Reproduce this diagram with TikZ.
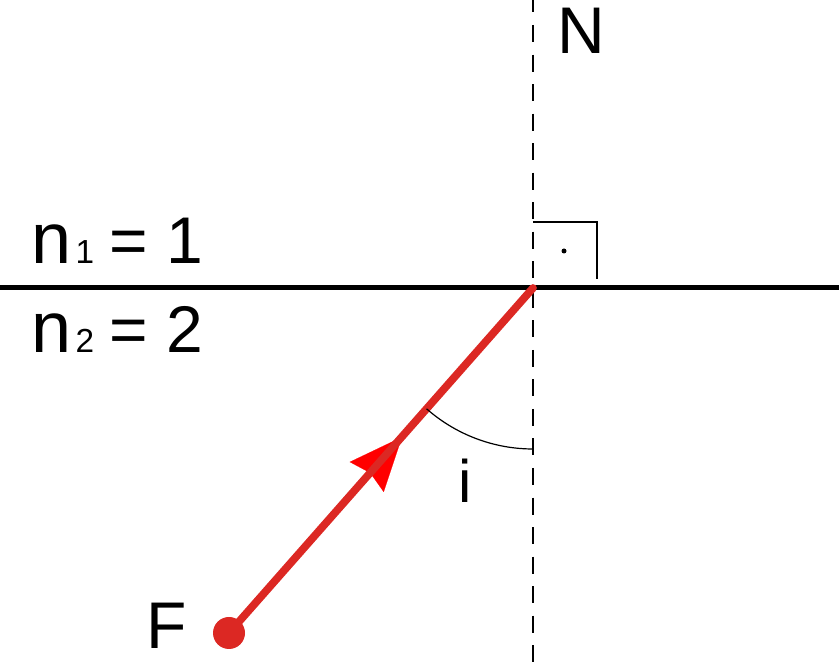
\documentclass[tikz,border=0pt]{standalone}
\usepackage{fontspec}
\setmainfont{Liberation Sans}
\usepackage[dvipsnames]{xcolor}
\usetikzlibrary{positioning,arrows.meta,angles,quotes}
\definecolor{raycolor}{RGB}{220,40,35}
\newcommand{\bigtxt}{\fontsize{49.5}{50}\selectfont}
\newcommand{\subtxt}{\fontsize{25}{25}\selectfont}

\begin{document}
\begin{tikzpicture}[x=0.75pt, y=0.75pt, thick, text node/.style={inner sep=0pt, anchor=base west, font=\bigtxt}]

                \useasboundingbox (0,0) rectangle (839,663);
                \coordinate (O) at (533,375);
                \coordinate (L) at (0,375);
                \coordinate (R) at (839,375);
                \coordinate (top) at (533,663);
                \coordinate (bot) at (533,0);
                \coordinate (B1) at (533,441);
                \coordinate (B2) at (597,441);
                \coordinate (B3) at (597,384);
                \coordinate (M) at (402,226);

                \node[] (N)[text node] at (557,609) {N};
                \node[] (n1)[text node] at (31,399) {{\fontsize{54}{54}\selectfont n}\kern3pt{\subtxt 1}\kern-2pt{} = 1};
                \node[] (n2)[text node] at (31,310) {{\fontsize{54}{54}\selectfont n}\kern3pt{\subtxt 2}\kern-2pt{} = 2};
                \node[] (Flab)[text node] at (146,14) {F};
                \node[circle, fill=raycolor, minimum size=24pt, inner sep=0pt] (F) at (229,30) {};

                \draw[line width=1.5pt, dash pattern=on 12.75pt off 9.4pt, dash phase=3.4pt] (top) -- (bot);
                \draw[line width=3.75pt] (L) -- (R);
                \draw[line width=1.1pt] (B1) -- (B2) -- (B3);
                \fill (564,412) circle (2.5);

                \draw[line width=0.1pt, red, -{Stealth[length=40pt, width=34pt, inset=4pt]}] (F.center) -- (M);
                \draw[line width=5.8pt, raycolor, line cap=round] (F.center) -- (O);

                \pic[draw, line width=0.9pt, angle radius=120.75pt, "i", angle eccentricity=1.28, pic text options={font=\fontsize{45}{45}\selectfont, xshift=4pt}] {angle = F--O--bot};
            \end{tikzpicture}
\end{document}
